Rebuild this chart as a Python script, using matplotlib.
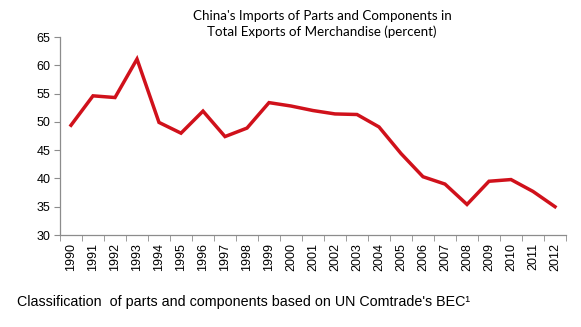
import matplotlib
matplotlib.use("Agg")
import matplotlib.pyplot as plt
import numpy as np

years = [str(y) for y in range(1990, 2013)]
share = [49.4, 54.6, 54.3, 61.1, 49.9, 48.0, 51.9, 47.4, 48.9, 53.4, 52.8,
         52.0, 51.4, 51.3, 49.1, 44.4, 40.3, 39.0, 35.4, 39.5, 39.8, 37.7, 35.0]
y_ticks = [30, 35, 40, 45, 50, 55, 60, 65]

title = "China's Imports of Parts and Components in\nTotal Exports of Merchandise (percent)"
footer = "Classification  of parts and components based on UN Comtrade's BEC\u00b9"

plt.rcParams['font.family'] = ['Liberation Sans', 'DejaVu Sans']

fig = plt.figure(figsize=(5.81, 3.27), dpi=100)
ax = fig.add_axes([60 / 581, 1 - 235 / 327, 506 / 581, 198 / 327])

x = np.arange(len(years))
ax.plot(x, share, color='#d0111b', lw=2.5, solid_joinstyle='miter')

ax.set_xlim(-0.5, len(years) - 0.5)
ax.set_ylim(30, 65)
ax.set_yticks(y_ticks)
ax.tick_params(axis='y', labelsize=9, length=4, color='#8c8c8c', pad=3)

ax.set_xticks(x)
ax.set_xticklabels(years, rotation=90, fontsize=9)
ax.tick_params(axis='x', which='major', length=0, pad=6)
ax.set_xticks(np.arange(-0.5, len(years)), minor=True)
ax.tick_params(axis='x', which='minor', length=4, color='#8c8c8c')

for side in ['top', 'right']:
    ax.spines[side].set_visible(False)
for side in ['left', 'bottom']:
    ax.spines[side].set_color('#8c8c8c')
    ax.spines[side].set_linewidth(0.9)

fig.text(322 / 581, 1 - 24 / 327, title, ha='center', va='center',
         fontsize=9.6, family=['Lato', 'DejaVu Sans'], linespacing=1.4)
fig.text(17 / 581, 1 - 302 / 327, footer, ha='left', va='center', fontsize=10.3)

fig.savefig('out.png', dpi=100)
